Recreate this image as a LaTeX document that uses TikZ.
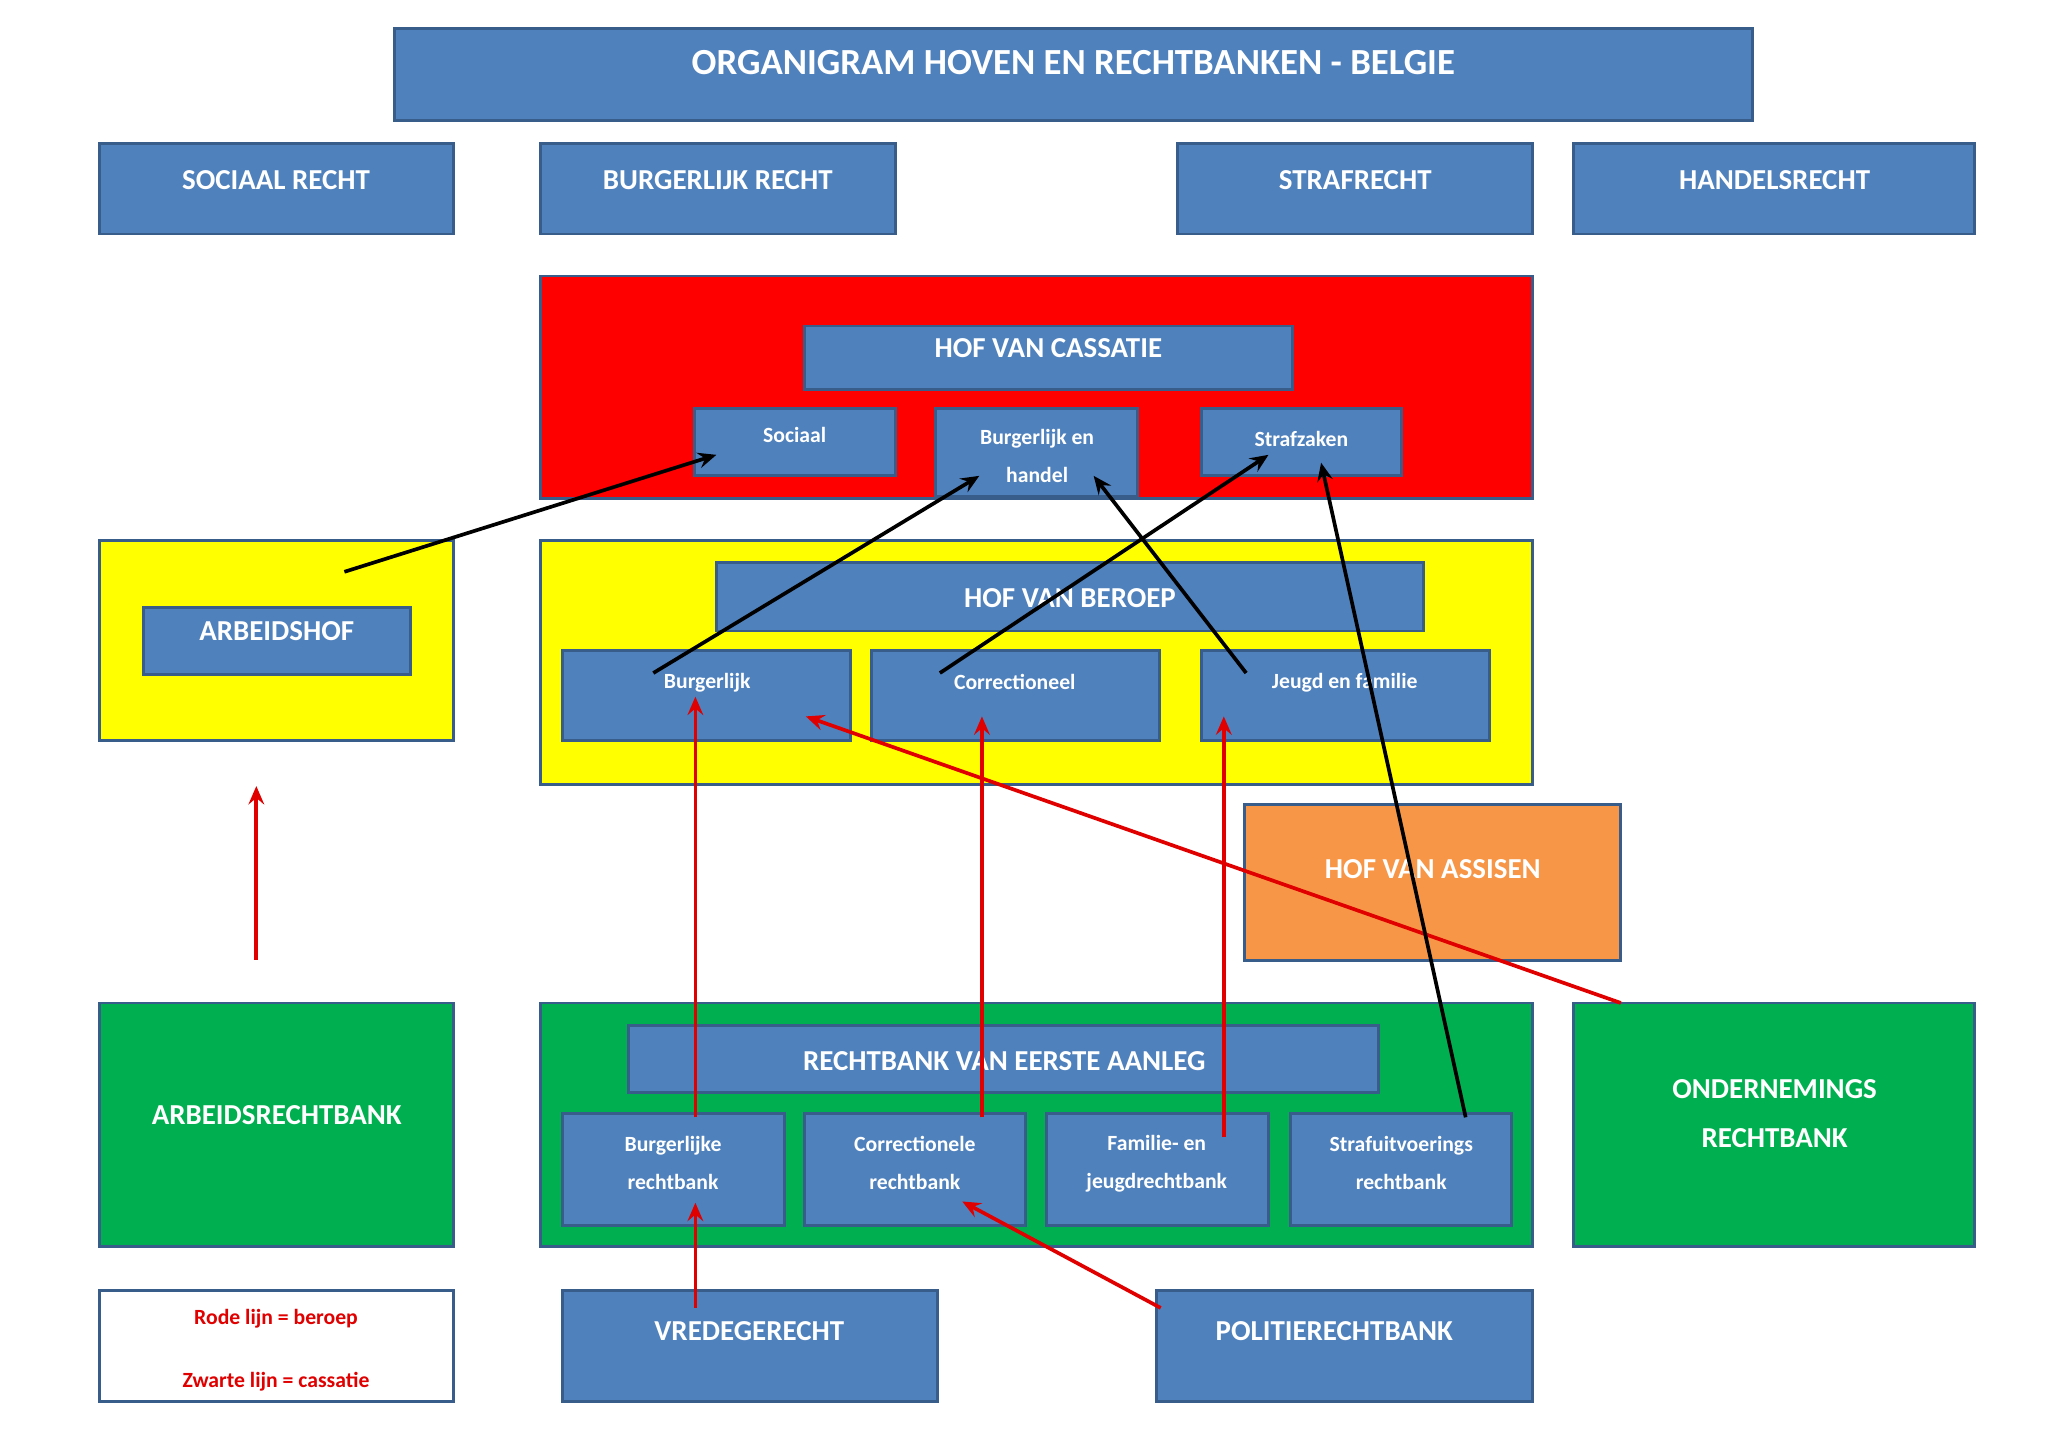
\documentclass[tikz,border=0pt]{standalone}
\usepackage{fontspec}
\setmainfont{Carlito}
\usetikzlibrary{fit,arrows.meta}
\definecolor{bbl}{HTML}{4F81BD}
\definecolor{bbd}{HTML}{385D8A}
\definecolor{gr}{HTML}{00B050}
\definecolor{og}{HTML}{F79646}
\definecolor{rd}{HTML}{FF0000}
\definecolor{ye}{HTML}{FFFF00}
\definecolor{lr}{HTML}{E00000}
\begin{document}
\begin{tikzpicture}[x=1pt,y=-1pt,
 box/.style={draw=bbd,line width=2.2pt,fill=bbl,inner sep=0pt,text=white,font=\bfseries,align=center},
 big/.style={font=\bfseries\fontsize{22}{26}\selectfont},
 sm/.style={font=\bfseries\fontsize{16.5}{29}\selectfont},
 tx/.style={text=white,align=center},
 ca/.style={line width=2.8pt,-{Stealth[length=14pt,width=12pt,inset=5pt]}},
 ra/.style={ca,draw=lr}]
\useasboundingbox[fill=white] (0,0) rectangle (1558,1101.5);
\node[box,fit={(300,22)(1333,92)},font=\bfseries\fontsize{28}{32}\selectfont] (t) {ORGANIGRAM HOVEN EN RECHTBANKEN - BELGIE};
\node[box,big,fit={(76,109)(345,178)}] (c1) {};
\node[tx,big] at (210,137) {SOCIAAL RECHT};
\node[box,big,fit={(411,109)(681,178)}] (c2) {};
\node[tx,big] at (546,137) {BURGERLIJK RECHT};
\node[box,big,fit={(896,109)(1166,178)}] (c3) {};
\node[tx,big] at (1031,137) {STRAFRECHT};
\node[box,big,fit={(1197,109)(1502,178)}] (c4) {};
\node[tx,big] at (1350,137) {HANDELSRECHT};
% red
\node[box,fill=rd,fit={(411,210)(1166,379)}] (red) {};
\node[box,big,fit={(612,248)(983,296)}] (hc) {HOF VAN CASSATIE};
\node[box,sm,fit={(528,311)(681,362)}] (cs) {Sociaal};
\node[box,fit={(712,311)(865,378)}] (cb) {};
\node[tx,sm] at (789,347) {Burgerlijk en\\handel};
\node[box,sm,fit={(914,311)(1066,362)}] (cz) {};
\node[tx,sm] at (990,334) {Strafzaken};
% yellow
\node[box,fill=ye,fit={(76,411)(345,563)}] (yl) {};
\node[box,big,fit={(109,462)(312,513)}] (ah) {ARBEIDSHOF};
\node[box,fill=ye,fit={(411,411)(1166,597)}] (ym) {};
\node[box,big,fit={(545,428)(1083,480)}] (hb) {};
\node[tx,big] at (814,455) {HOF VAN BEROEP};
\node[box,fit={(428,495)(647,563)}] (bb) {};
\node[tx,sm] at (538,519) {Burgerlijk};
\node[box,fit={(663,495)(882,563)}] (bc) {};
\node[tx,sm] at (772,519) {Correctioneel};
\node[box,fit={(914,495)(1133,563)}] (bj) {};
\node[tx,sm] at (1023,519) {Jeugd en familie};
% orange
\node[box,fill=og,fit={(947,612)(1233,731)}] (as) {};
\node[tx,big] at (1090,661) {HOF VAN ASSISEN};
% green
\node[box,fill=gr,big,fit={(76,763)(345,948)}] (arb) {ARBEIDSRECHTBANK};
\node[box,fill=gr,fit={(411,763)(1166,948)}] (gm) {};
\node[box,big,fit={(478,780)(1049,831)}] (ea) {};
\node[tx,big] at (764,807) {RECHTBANK VAN EERSTE AANLEG};
\node[box,fit={(428,847)(597,932)}] (r1) {};
\node[tx,sm] at (512,885) {Burgerlijke\\rechtbank};
\node[box,fit={(612,847)(780,932)}] (r2) {};
\node[tx,sm] at (696,885) {Correctionele\\rechtbank};
\node[box,fit={(796,847)(965,932)}] (r3) {};
\node[tx,sm] at (880,885) {Familie- en\\jeugdrechtbank};
\node[box,fit={(982,847)(1150,932)}] (r4) {};
\node[tx,sm] at (1066,885) {Strafuitvoerings\\rechtbank};
\node[box,fill=gr,fit={(1197,763)(1502,948)}] (on) {};
\node[tx,big,font=\bfseries\fontsize{22}{37}\selectfont] at (1350,847) {ONDERNEMINGS\\RECHTBANK};
% bottom
\node[box,fill=white,fit={(76,982)(345,1066)}] (lg) {};
\node[text=lr,align=center,font=\bfseries\fontsize{16.5}{48}\selectfont] at (210,1027) {Rode lijn = beroep\\Zwarte lijn = cassatie};
\node[box,big,fit={(428,982)(713,1066)}] (vr) {};
\node[tx,big] at (570,1013) {VREDEGERECHT};
\node[box,big,fit={(880,982)(1166,1066)}] (po) {};
\node[tx,big] at (1015,1013) {POLITIERECHTBANK};
% coordinates
\coordinate (a1) at (262,435); \coordinate (a1e) at (545,346);
\coordinate (a2) at (497,512); \coordinate (a2e) at (745,362);
\coordinate (a3) at (948,512); \coordinate (a3e) at (832,362);
\coordinate (a4) at (715,512); \coordinate (a4e) at (965,346);
\coordinate (a5) at (1115,850); \coordinate (a5e) at (1005,352);
\coordinate (b1) at (195,730); \coordinate (b1e) at (195,598);
\coordinate (b2) at (529,850); \coordinate (b2e) at (529,530);
\coordinate (b3) at (747,850); \coordinate (b3e) at (747,545);
\coordinate (b4) at (931,865); \coordinate (b4e) at (931,545);
\coordinate (b5) at (1233,763); \coordinate (b5e) at (613,545);
\coordinate (b6) at (529,995); \coordinate (b6e) at (529,915);
\coordinate (b7) at (883,995); \coordinate (b7e) at (732,914);
\foreach \s in {b1,b2,b3,b4,b5,b6,b7} \draw[ra] (\s) -- (\s e);
\foreach \s in {a1,a2,a3,a4,a5} \draw[ca] (\s) -- (\s e);
\end{tikzpicture}
\end{document}
